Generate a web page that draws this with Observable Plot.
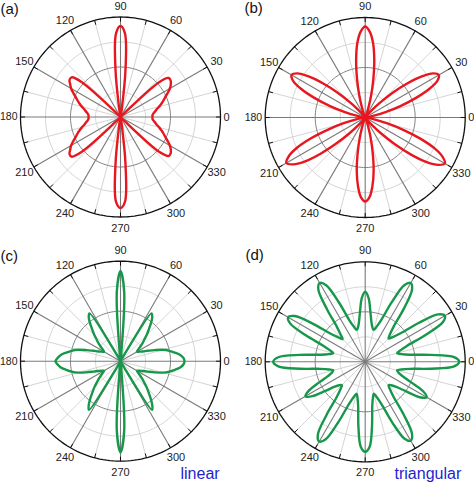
<!DOCTYPE html>
<html><head><meta charset="utf-8">
<script src="https://cdn.jsdelivr.net/npm/d3@7"></script>
<script src="https://cdn.jsdelivr.net/npm/@observablehq/plot@0.6"></script>
<style>
body{margin:0;background:#fff;}
#wrap{position:relative;width:474px;height:483px;overflow:hidden;background:#fff;}
#wrap svg{position:absolute;}
</style></head><body><div id="wrap"></div>
<script>
// sampled polar angles (degrees)
const angles = d3.range(0, 360, 3);

// (a) radius values, one per angle
const rA = [
  .32,.32,.33,.35,.37,.40,.43,.46,.49,.53,
  .57,.60,.62,.62,.52,.06,.01,0,0,0,
  0,0,0,0,0,0,.01,.08,.48,.84,
  .91,.84,.48,.08,.01,0,0,0,0,0,
  0,0,0,0,.01,.06,.52,.63,.63,.60,
  .57,.53,.49,.46,.43,.40,.37,.35,.33,.32,
  .32,.32,.33,.35,.37,.40,.43,.46,.49,.53,
  .57,.60,.63,.63,.52,.06,.01,0,0,0,
  0,0,0,0,0,0,.01,.08,.48,.85,
  .91,.85,.48,.08,.01,0,0,0,0,0,
  0,0,0,0,.01,.06,.52,.62,.62,.60,
  .57,.53,.49,.46,.43,.40,.37,.35,.33,.32
];
// (b)
const rB = [
  0,0,.01,.04,.10,.21,.37,.54,.70,.81,
  .85,.81,.70,.54,.37,.21,.10,.04,.01,0,
  0,0,.01,.04,.11,.23,.39,.58,.75,.86,
  .91,.86,.75,.58,.39,.23,.11,.04,.01,0,
  0,0,.01,.04,.10,.21,.37,.54,.70,.81,
  .85,.81,.70,.54,.37,.21,.10,.04,.01,0,
  0,0,.01,.04,.11,.23,.39,.58,.75,.86,
  .91,.86,.75,.58,.39,.23,.11,.04,.01,0,
  0,0,.01,.04,.10,.21,.36,.54,.69,.80,
  .84,.80,.69,.54,.36,.21,.10,.04,.01,0,
  0,0,.01,.04,.11,.23,.40,.59,.76,.87,
  .92,.87,.76,.59,.40,.23,.11,.04,.01,0
];
// (c) linear
const rC = [
  .64,.63,.60,.55,.50,.44,.36,.29,.24,.21,
  .19,.21,.24,.28,.32,.37,.42,.48,.54,.57,
  .05,0,0,0,0,0,0,0,.06,.70,
  .90,.70,.06,0,0,0,0,0,0,0,
  .05,.57,.54,.48,.42,.37,.32,.28,.24,.21,
  .19,.21,.24,.29,.36,.44,.50,.55,.60,.63,
  .65,.63,.60,.55,.50,.44,.36,.29,.24,.21,
  .19,.21,.24,.28,.32,.37,.42,.48,.54,.58,
  .05,0,0,0,0,0,0,0,.06,.70,
  .91,.70,.06,0,0,0,0,0,0,0,
  .05,.58,.54,.48,.42,.37,.32,.28,.24,.21,
  .19,.21,.24,.29,.36,.44,.50,.55,.60,.63
];
// (d) triangular
const rD = [
  .94,.89,.66,.45,.37,.33,.37,.45,.66,.87,
  .92,.87,.66,.45,.37,.33,.37,.45,.66,.86,
  .91,.86,.65,.45,.37,.33,.35,.40,.50,.64,
  .70,.64,.50,.40,.35,.33,.37,.45,.66,.86,
  .91,.86,.65,.45,.37,.32,.37,.45,.65,.84,
  .89,.84,.65,.45,.37,.33,.37,.45,.66,.87,
  .92,.87,.66,.45,.37,.33,.35,.40,.50,.63,
  .69,.63,.50,.40,.35,.33,.37,.45,.66,.87,
  .92,.87,.66,.45,.37,.33,.37,.45,.65,.85,
  .90,.85,.65,.45,.37,.33,.37,.45,.66,.86,
  .91,.86,.66,.45,.37,.33,.35,.40,.50,.65,
  .71,.65,.50,.40,.35,.33,.37,.45,.66,.89
];

const panelLabels = ["(a)", "(b)", "(c)", "(d)"];
const notes = ["", "", "linear", "triangular"];
const tickLabels = d3.range(0, 360, 30);
const minorAngles = d3.range(15, 360, 30);
const tickAngles = d3.range(0, 360, 15);
const lightRings = [0.25, 0.75];

const RED = "#e8161e", GREEN = "#17974a", BLUE = "#1f1fd0";
const deg = Math.PI / 180;
const cx = a => Math.cos(a * deg), sy = a => Math.sin(a * deg);
const circlePts = v => d3.range(0, 361, 2).map(a => ({v, a}));

function polar(cfg) {
  const R = 100;
  const pts = angles.map((a, i) => ({a, r: cfg.r[i]}));
  const svg = Plot.plot({
    width: cfg.width, height: cfg.height, margin: 0,
    style: {fontFamily: "Liberation Sans, Arial, sans-serif", background: "white", overflow: "hidden"},
    x: {domain: [-1, 1], range: [cfg.cx - R, cfg.cx + R], axis: null},
    y: {domain: [-1, 1], range: [cfg.cy + R, cfg.cy - R], axis: null},
    marks: [
      Plot.link(minorAngles, {x1: 0, y1: 0, x2: a => cx(a), y2: a => sy(a), stroke: "#cfcfcf", strokeWidth: 0.9}),
      Plot.line(lightRings.flatMap(circlePts), {x: d => d.v * cx(d.a), y: d => d.v * sy(d.a), z: "v", stroke: "#cfcfcf", strokeWidth: 0.9}),
      Plot.line(circlePts(0.5), {x: d => d.v * cx(d.a), y: d => d.v * sy(d.a), stroke: "#808080", strokeWidth: 1}),
      Plot.link(tickLabels, {x1: 0, y1: 0, x2: a => cx(a), y2: a => sy(a), stroke: "#7a7a7a", strokeWidth: 1.1}),
      Plot.line(circlePts(1), {x: d => d.v * cx(d.a), y: d => d.v * sy(d.a), stroke: "#111", strokeWidth: 1.3}),
      Plot.link(tickAngles, {x1: a => 0.955 * cx(a), y1: a => 0.955 * sy(a), x2: a => cx(a), y2: a => sy(a), stroke: "#111", strokeWidth: 1}),
      Plot.line(pts, {x: d => d.r * cx(d.a), y: d => d.r * sy(d.a), curve: "catmull-rom-closed", stroke: cfg.color, strokeWidth: 2.4}),
      Plot.text(tickLabels.filter(a => a !== 0 && a !== 180), {x: a => 1.11 * cx(a), y: a => 1.11 * sy(a), text: a => String(a), fontSize: 11, fill: "#222"}),
      Plot.text([0], {x: 1.03, y: 0, text: a => String(a), textAnchor: "start", fontSize: 11, fill: "#222"}),
      Plot.text([180], {x: -1.03, y: 0, text: a => String(a), textAnchor: "end", fontSize: 10.5, fill: "#222"}),
      Plot.text([cfg.label], {frameAnchor: "top-left", dx: cfg.lx, dy: cfg.ly, text: d => d, textAnchor: "start", lineAnchor: "top", fontSize: 15, fill: "#111"}),
      cfg.note ? Plot.text([cfg.note], {frameAnchor: "top-left", dx: cfg.nx, dy: cfg.ny, text: d => d, textAnchor: "start", lineAnchor: "top", fontSize: 16, fill: BLUE}) : null
    ]
  });
  svg.style.left = cfg.left + "px";
  svg.style.top = cfg.top + "px";
  document.getElementById("wrap").appendChild(svg);
}

polar({r: rA, color: RED, label: panelLabels[0], note: notes[0], left: 0, top: 0, width: 237, height: 240, cx: 120, cy: 116.5, lx: 0, ly: 3});
polar({r: rB, color: RED, label: panelLabels[1], note: notes[1], left: 237, top: 0, width: 237, height: 240, cx: 127.7, cy: 117, lx: 7, ly: 2});
polar({r: rC, color: GREEN, label: panelLabels[2], note: notes[2], left: 0, top: 240, width: 237, height: 243, cx: 120, cy: 120.7, lx: 0, ly: 10, nx: 180, ny: 227});
polar({r: rD, color: GREEN, label: panelLabels[3], note: notes[3], left: 237, top: 240, width: 237, height: 243, cx: 127.7, cy: 121.3, lx: 8, ly: 9, nx: 157, ny: 227});
</script></body></html>
